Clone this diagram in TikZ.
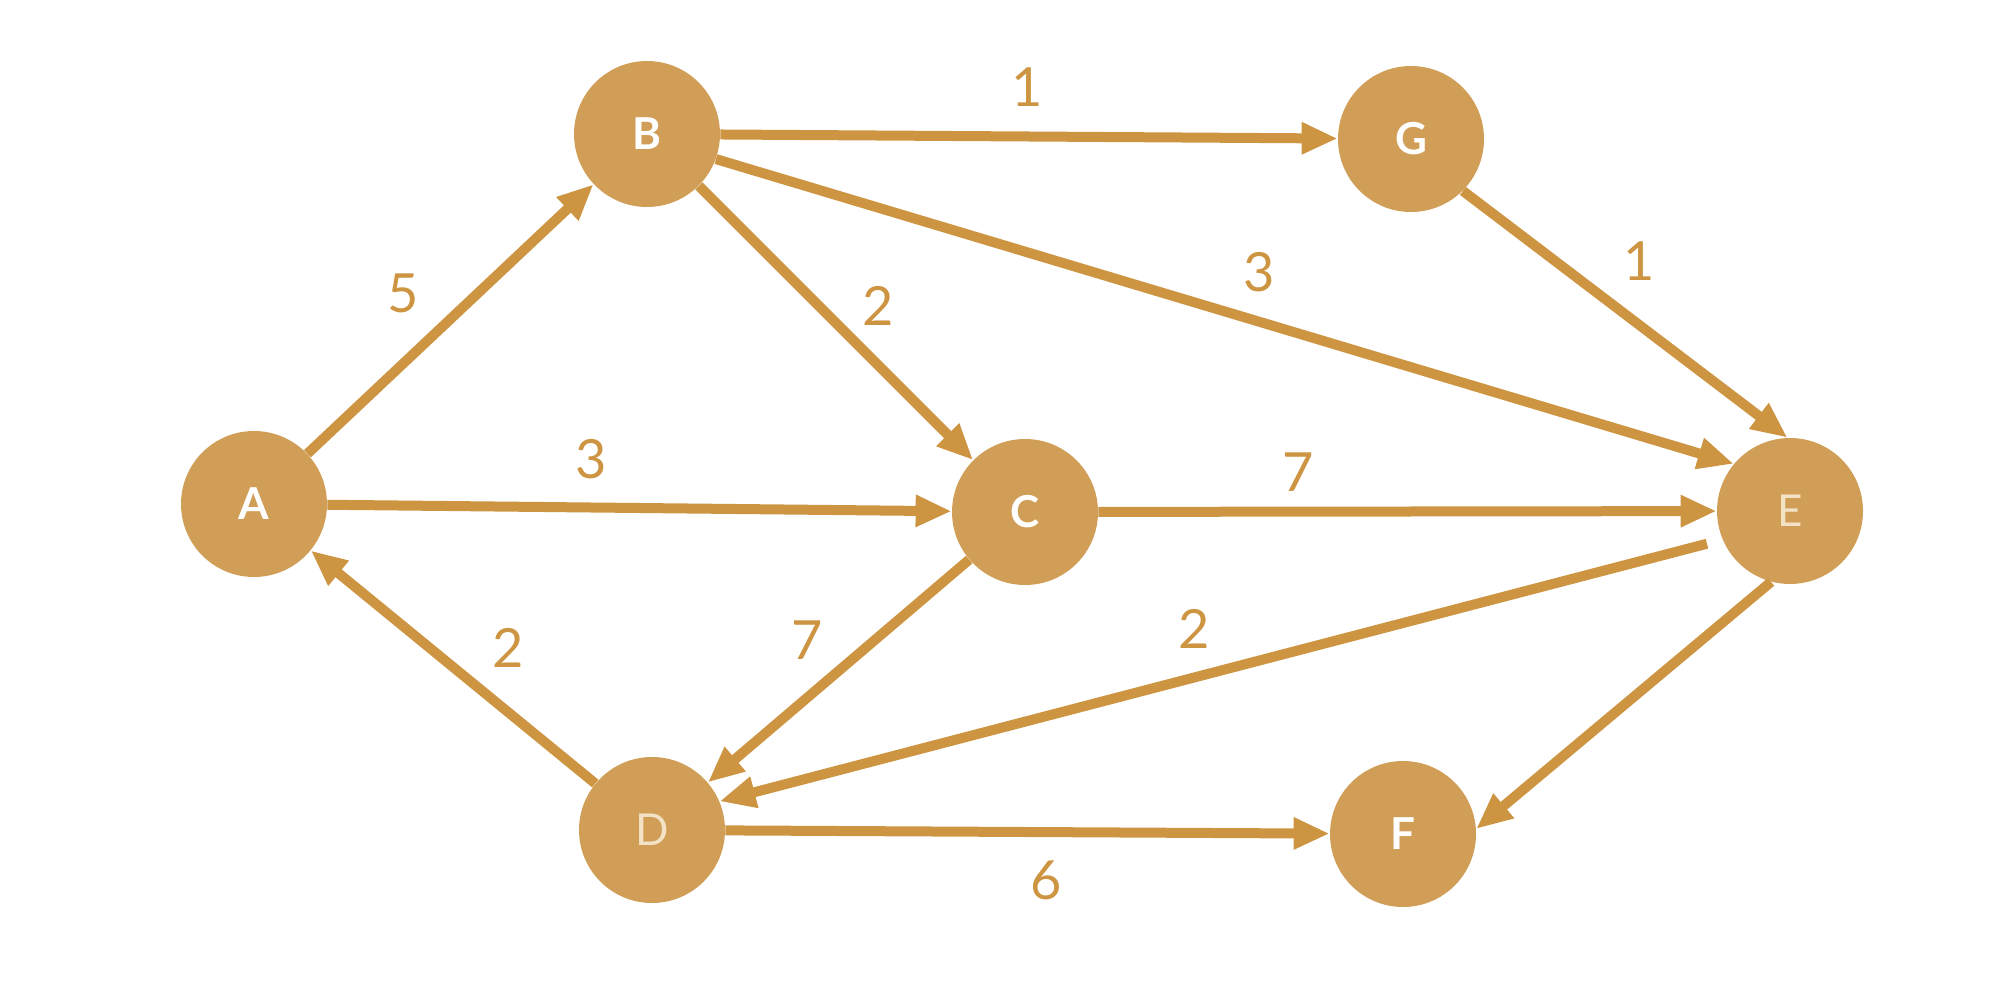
\documentclass[tikz,border=0pt]{standalone}
\usepackage{fontspec}
\setmainfont{Lato}
\usetikzlibrary{arrows.meta}
\definecolor{nodefill}{HTML}{D19E58}
\definecolor{edgecol}{HTML}{CD9542}
\definecolor{lettercol}{HTML}{FFFFFF}
\definecolor{fadeletter}{HTML}{F3E2C6}
\begin{document}
\begin{tikzpicture}[x=0.5pt,y=-0.5pt,
  vtx/.style={circle,fill=nodefill,draw=none,minimum size=73pt,inner sep=0pt,
    font=\fontsize{22}{22}\selectfont\bfseries,text=lettercol},
  vtxlight/.style={vtx,font=\fontsize{22}{22}\selectfont,text=fadeletter},
  edge/.style={draw=edgecol,line width=5pt,-{Triangle[length=18pt,width=15pt]}},
  wlabel/.style={text=edgecol,font=\fontsize{27}{27}\selectfont,inner sep=0pt}]
\useasboundingbox (0,0) rectangle (2000,1000);
\node[vtx] (A) at (254,504) {A};
\node[vtx] (B) at (647,134) {B};
\node[vtx] (G) at (1411,139) {G};
\node[vtx] (C) at (1025,512) {C};
\node[vtxlight] (E) at (1790,511) {E};
\node[vtxlight] (D) at (652,830) {D};
\node[vtx] (F) at (1403,834) {F};
\draw[edge] (A) -- (B);
\draw[edge] (A) -- (C);
\draw[edge] (B) -- (G);
\draw[edge] (B) -- (C);
\draw[edge] (B.-20) -- (E.140);
\draw[edge] (G.-45) -- (E.92);
\draw[edge] (C) -- (E);
\draw[edge] (C) -- (D);
\draw[edge,shorten <=8pt] (E.203) -- (D.23);
\draw[edge] (D) -- (A);
\draw[edge] (D) -- (F);
\draw[edge] (E.-105) -- (F.4);
\node[wlabel] (w1) at (1027,87) {1};
\node[wlabel] (w2) at (403,293) {5};
\node[wlabel] (w3) at (878,306) {2};
\node[wlabel] (w4) at (1259,272) {3};
\node[wlabel] (w5) at (1639,261) {1};
\node[wlabel] (w6) at (591,459) {3};
\node[wlabel] (w7) at (1298,472) {7};
\node[wlabel] (w8) at (508,648) {2};
\node[wlabel] (w9) at (807,640) {7};
\node[wlabel] (w10) at (1194,629) {2};
\node[wlabel] (w11) at (1046,880) {6};
\end{tikzpicture}
\end{document}
